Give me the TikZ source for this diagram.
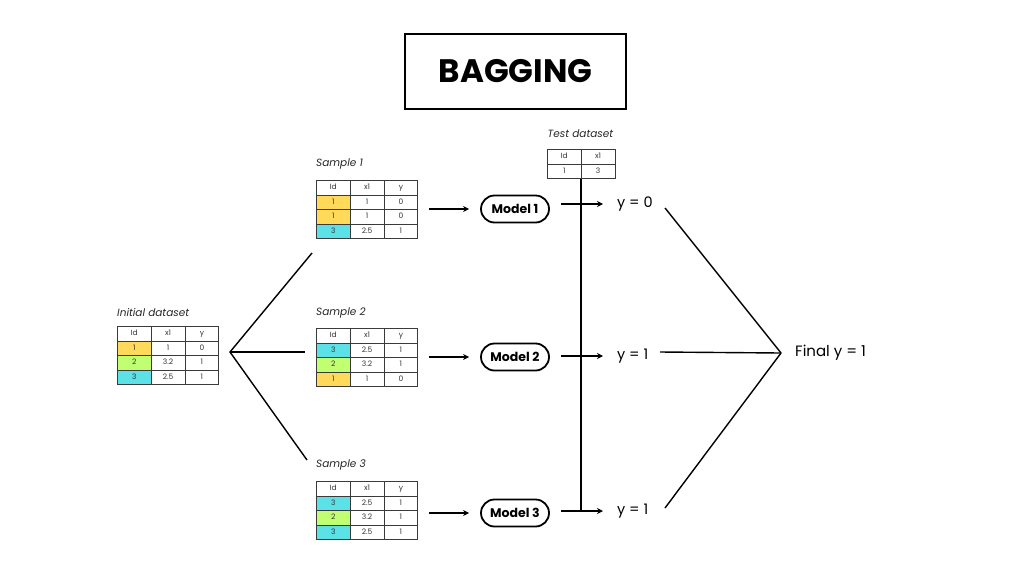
\documentclass[tikz,border=0pt]{standalone}
\usepackage{fontspec}
\setmainfont{Poppins}
\usetikzlibrary{matrix,arrows.meta,calc}
\definecolor{yel}{HTML}{FFD95A}
\definecolor{grn}{HTML}{C1FF72}
\definecolor{cya}{HTML}{5CE1E6}
\definecolor{bord}{HTML}{3A3A3A}
\tikzset{
  tbl/.style={matrix of nodes, anchor=north west, inner sep=0pt, outer sep=0pt,
    column sep=-0.8pt, row sep=-0.8pt,
    nodes={draw=bord, line width=0.8pt, minimum width=33.8pt, minimum height=14.6pt, inner sep=0pt,
      text height=5.5pt, text depth=1.5pt, anchor=center,
      font=\fontsize{7.5}{8}\selectfont, text=black!80}},
  lbl/.style={font=\fontsize{10.5}{12}\selectfont\itshape, text=black!85, anchor=west, inner sep=0pt},
  conn/.style={line width=1.4pt, black},
  arr/.style={line width=1.4pt, black, -{Stealth[length=6pt,width=6pt]}},
  modelbox/.style={draw, line width=1.8pt, rounded corners=13.5pt, minimum width=68pt, minimum height=27pt,
    inner sep=0pt, font=\fontsize{12.5}{14}\selectfont\bfseries},
  ylab/.style={font=\fontsize{14.5}{16}\selectfont, anchor=west, inner sep=0pt},
}
\begin{document}
\begin{tikzpicture}[x=1pt,y=-1pt]
\useasboundingbox[fill=white] (0,0) rectangle (1024,576);
% title
\node[draw, line width=2pt, minimum width=221pt, minimum height=75pt, font=\fontsize{32.5}{36}\selectfont\bfseries] (title) at (515.5,71.5) {BAGGING};
% initial dataset
\node[lbl] (linit) at (117,313) {Initial dataset};
\matrix (init) [tbl] at (117,326) {
 Id & x1 & y \\
 |[fill=yel]| 1 & 1 & 0 \\
 |[fill=grn]| 2 & 3.2 & 1 \\
 |[fill=cya]| 3 & 2.5 & 1 \\
};
% samples
\node[lbl] (ls1) at (316,164) {Sample 1};
\matrix (s1) [tbl] at (316,180) {
 Id & x1 & y \\
 |[fill=yel]| 1 & 1 & 0 \\
 |[fill=yel]| 1 & 1 & 0 \\
 |[fill=cya]| 3 & 2.5 & 1 \\
};
\node[lbl] (ls2) at (316,313) {Sample 2};
\matrix (s2) [tbl] at (316,328) {
 Id & x1 & y \\
 |[fill=cya]| 3 & 2.5 & 1 \\
 |[fill=grn]| 2 & 3.2 & 1 \\
 |[fill=yel]| 1 & 1 & 0 \\
};
\node[lbl] (ls3) at (316,465) {Sample 3};
\matrix (s3) [tbl] at (316,481) {
 Id & x1 & y \\
 |[fill=cya]| 3 & 2.5 & 1 \\
 |[fill=grn]| 2 & 3.2 & 1 \\
 |[fill=cya]| 3 & 2.5 & 1 \\
};
% test dataset
\node[lbl, anchor=center] (ltest) at (580.5,134) {Test dataset};
\matrix (test) [tbl] at (547,149) {
 Id & x1 \\
 1 & 3 \\
};
% split
\coordinate (split) at (230,352);
\coordinate (e1) at (312,253);
\coordinate (e2) at (305,352);
\coordinate (e3) at (307,460);
\draw[conn] (e1) -- (split) -- (e3);
\draw[conn] (split) -- (e2);
% models
\node[modelbox] (m1) at (515,209) {Model 1};
\node[modelbox] (m2) at (515,357) {Model 2};
\node[modelbox] (m3) at (515,513) {Model 3};
\draw[arr] (s1.east |- m1) ++(11,0) -- ([xshift=-11pt]m1.west);
\draw[arr] (s2.east |- m2) ++(11,0) -- ([xshift=-11pt]m2.west);
\draw[arr] (s3.east |- m3) ++(11,0) -- ([xshift=-11pt]m3.west);
% predictions
\node[ylab] (y1) at (617,204) {y = 0};
\node[ylab] (y2) at (617,356) {y = 1};
\node[ylab] (y3) at (617,511) {y = 1};
\draw[arr] ([xshift=11pt]m1.east |- y1) -- ([xshift=-14pt]y1.west);
\draw[arr] ([xshift=11pt]m2.east |- y2) -- ([xshift=-14pt]y2.west);
\draw[arr] ([xshift=11pt]m3.east |- y3) -- ([xshift=-14pt]y3.west);
% test line
\draw[conn, line width=1.6pt] (test.south) -- (test.south |- y3);
% final
\node[ylab, font=\fontsize{15}{17}\selectfont] (fin) at (795,353) {Final y = 1};
\coordinate (join) at ($(fin.west)+(-14,0)$);
\draw[conn] (665,208) coordinate (f1) -- (join);
\draw[conn] (660,352) coordinate (f2) -- (join);
\draw[conn] (665,508) coordinate (f3) -- (join);
\end{tikzpicture}
\end{document}
